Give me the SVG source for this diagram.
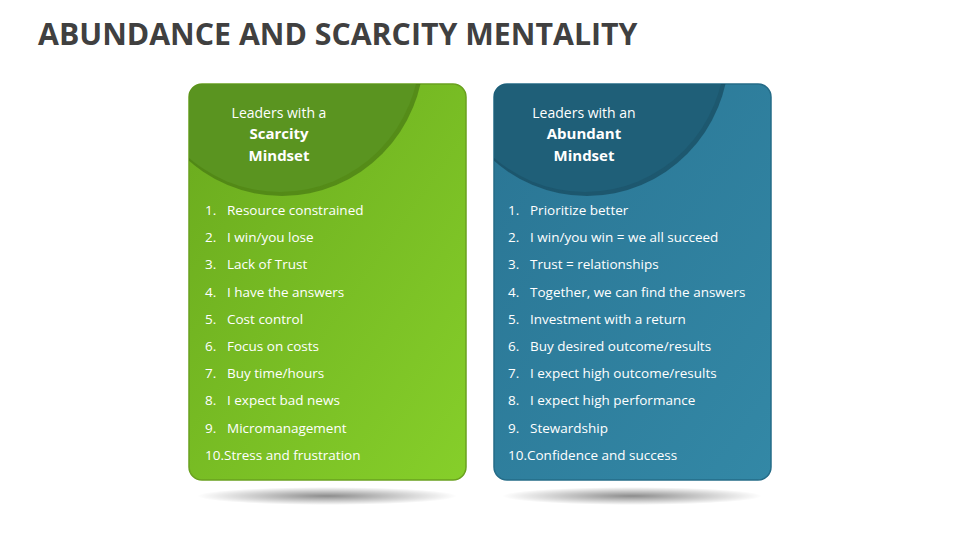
<svg xmlns="http://www.w3.org/2000/svg" width="960" height="540" viewBox="0 0 960 540">
<defs>
<linearGradient id="gg" x1="0" y1="0" x2="1" y2="1"><stop offset="0" stop-color="#6aaa1e"/><stop offset="1" stop-color="#86cf2a"/></linearGradient>
<linearGradient id="bg" x1="0" y1="0" x2="1" y2="1"><stop offset="0" stop-color="#2a7594"/><stop offset="1" stop-color="#3388a6"/></linearGradient>
<radialGradient id="sh"><stop offset="0" stop-color="#000" stop-opacity="0.45"/><stop offset="1" stop-color="#000" stop-opacity="0"/></radialGradient>
<clipPath id="cg"><rect x="189" y="84" width="277" height="396" rx="13"/></clipPath>
<clipPath id="cb"><rect x="494" y="84" width="277" height="396" rx="13"/></clipPath>
</defs>
<style>
.t{font-family:"Open Sans","Liberation Sans",sans-serif;font-size:13.5px;fill:#fff;font-weight:500}
.h{font-family:"Open Sans","Liberation Sans",sans-serif;font-size:14px;fill:#fff;text-anchor:middle}
.hb{font-weight:bold;font-size:15px}
</style>
<text x="38" y="45" font-family="Open Sans, Liberation Sans, sans-serif" font-weight="bold" font-size="30.3" fill="#404040">ABUNDANCE AND SCARCITY MENTALITY</text>
<ellipse cx="327" cy="496" rx="130" ry="9" fill="url(#sh)"/>
<ellipse cx="632" cy="496" rx="130" ry="9" fill="url(#sh)"/>
<g id="scarcity">
<rect x="189" y="84" width="277" height="396" rx="13" fill="url(#gg)" stroke="#6aa11f" stroke-width="1.5"/>
<g clip-path="url(#cg)">
<ellipse cx="282" cy="52" rx="142" ry="144" fill="#3f6e10" opacity="0.6"/>
<ellipse cx="280" cy="50" rx="140" ry="142" fill="#5a9420"/>
</g>
<text class="h" x="279" y="118">Leaders with a</text>
<text class="h hb" x="279" y="139">Scarcity</text>
<text class="h hb" x="279" y="161">Mindset</text>
<g class="t">
<text class="t" x="205" y="215">1.</text><text class="t" x="227" y="215">Resource constrained</text>
<text class="t" x="205" y="242">2.</text><text class="t" x="227" y="242">I win/you lose</text>
<text class="t" x="205" y="269">3.</text><text class="t" x="227" y="269">Lack of Trust</text>
<text class="t" x="205" y="297">4.</text><text class="t" x="227" y="297">I have the answers</text>
<text class="t" x="205" y="324">5.</text><text class="t" x="227" y="324">Cost control</text>
<text class="t" x="205" y="351">6.</text><text class="t" x="227" y="351">Focus on costs</text>
<text class="t" x="205" y="378">7.</text><text class="t" x="227" y="378">Buy time/hours</text>
<text class="t" x="205" y="405">8.</text><text class="t" x="227" y="405">I expect bad news</text>
<text class="t" x="205" y="433">9.</text><text class="t" x="227" y="433">Micromanagement</text>
<text class="t" x="205" y="460">10.Stress and frustration</text>
</g>
</g>
<g id="abundant">
<rect x="494" y="84" width="277" height="396" rx="13" fill="url(#bg)" stroke="#256c88" stroke-width="1.5"/>
<g clip-path="url(#cb)">
<ellipse cx="587" cy="52" rx="142" ry="144" fill="#123f52" opacity="0.6"/>
<ellipse cx="585" cy="50" rx="140" ry="142" fill="#1f5f78"/>
</g>
<text class="h" x="584" y="118">Leaders with an</text>
<text class="h hb" x="584" y="139">Abundant</text>
<text class="h hb" x="584" y="161">Mindset</text>
<text class="t" x="508" y="215">1.</text><text class="t" x="530" y="215">Prioritize better</text>
<text class="t" x="508" y="242">2.</text><text class="t" x="530" y="242">I win/you win = we all succeed</text>
<text class="t" x="508" y="269">3.</text><text class="t" x="530" y="269">Trust = relationships</text>
<text class="t" x="508" y="297">4.</text><text class="t" x="530" y="297">Together, we can find the answers</text>
<text class="t" x="508" y="324">5.</text><text class="t" x="530" y="324">Investment with a return</text>
<text class="t" x="508" y="351">6.</text><text class="t" x="530" y="351">Buy desired outcome/results</text>
<text class="t" x="508" y="378">7.</text><text class="t" x="530" y="378">I expect high outcome/results</text>
<text class="t" x="508" y="405">8.</text><text class="t" x="530" y="405">I expect high performance</text>
<text class="t" x="508" y="433">9.</text><text class="t" x="530" y="433">Stewardship</text>
<text class="t" x="508" y="460">10.Confidence and success</text>
</g>
</svg>
